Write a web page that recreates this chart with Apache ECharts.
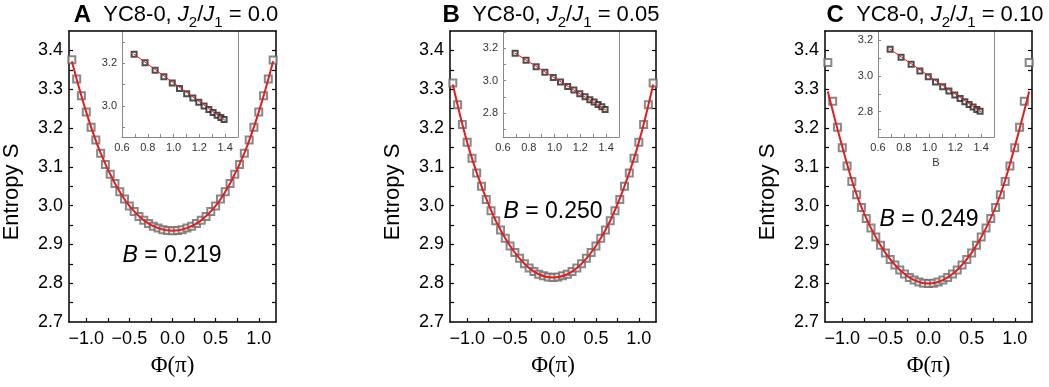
<!DOCTYPE html>
<html>
<head>
<meta charset="utf-8">
<script src="https://cdn.jsdelivr.net/npm/echarts@6/dist/echarts.min.js"></script>
<style>
  html, body { margin: 0; padding: 0; background: #fff; }
  #chart { width: 1049px; height: 387px; }
</style>
</head>
<body>
<div id="chart"></div>
<script>
// flux values Phi (units of pi), k/18
var phi = [-1.167, -1.111, -1.056, -1.0, -0.944, -0.889, -0.833, -0.778, -0.722, -0.667, -0.611,
  -0.556, -0.5, -0.444, -0.389, -0.333, -0.278, -0.222, -0.167, -0.111, -0.056, 0,
  0.056, 0.111, 0.167, 0.222, 0.278, 0.333, 0.389, 0.444, 0.5, 0.556,
  0.611, 0.667, 0.722, 0.778, 0.833, 0.889, 0.944, 1.0, 1.056, 1.111, 1.167];

// entropy S, J2/J1 = 0.0, 0.05, 0.10
var sA = [3.376, 3.326, 3.283, 3.241, 3.202, 3.169, 3.135, 3.106, 3.081, 3.057, 3.036,
  3.017, 2.999, 2.985, 2.972, 2.962, 2.954, 2.947, 2.942, 2.938, 2.936, 2.935,
  2.936, 2.938, 2.942, 2.947, 2.954, 2.962, 2.972, 2.985, 2.999, 3.017,
  3.036, 3.057, 3.081, 3.106, 3.135, 3.169, 3.202, 3.241, 3.283, 3.326, 3.375];
var sB = [3.316, 3.260, 3.209, 3.163, 3.122, 3.084, 3.050, 3.016, 2.987, 2.961, 2.937,
  2.916, 2.896, 2.879, 2.864, 2.850, 2.839, 2.830, 2.823, 2.819, 2.816, 2.815,
  2.816, 2.819, 2.823, 2.830, 2.839, 2.850, 2.864, 2.879, 2.896, 2.916,
  2.937, 2.961, 2.987, 3.016, 3.050, 3.084, 3.122, 3.163, 3.209, 3.260, 3.316];
var sC = [3.369, 3.269, 3.202, 3.149, 3.102, 3.062, 3.028, 2.995, 2.967, 2.942, 2.919,
  2.898, 2.878, 2.861, 2.847, 2.834, 2.824, 2.815, 2.808, 2.803, 2.800, 2.799,
  2.800, 2.803, 2.808, 2.815, 2.824, 2.834, 2.847, 2.861, 2.878, 2.898,
  2.919, 2.942, 2.967, 2.995, 3.028, 3.062, 3.102, 3.149, 3.202, 3.269, 3.369];

// fitted curves (red)
var phiFit = [-1.167, -1.0, -0.833, -0.667, -0.5, -0.333, -0.167, 0, 0.167, 0.333, 0.5, 0.667, 0.833, 1.0, 1.167];
var fitA = [3.372, 3.241, 3.135, 3.057, 2.999, 2.962, 2.942, 2.935, 2.942, 2.962, 2.999, 3.057, 3.135, 3.241, 3.372];
var fitB = [3.312, 3.163, 3.050, 2.961, 2.896, 2.850, 2.823, 2.815, 2.823, 2.850, 2.896, 2.961, 3.050, 3.163, 3.312];
var fitC = [3.294, 3.152, 3.028, 2.942, 2.878, 2.834, 2.808, 2.799, 2.808, 2.834, 2.878, 2.942, 3.028, 3.152, 3.294];

// insets: S vs B
var insX = [0.694, 0.779, 0.857, 0.925, 0.990, 1.046, 1.102, 1.150, 1.196, 1.237, 1.274, 1.307, 1.338, 1.367, 1.392];
var insA = [3.242, 3.202, 3.167, 3.137, 3.108, 3.082, 3.057, 3.037, 3.018, 3.000, 2.984, 2.970, 2.957, 2.946, 2.937];
var insB = [3.169, 3.126, 3.085, 3.052, 3.019, 2.991, 2.964, 2.942, 2.919, 2.900, 2.882, 2.868, 2.853, 2.839, 2.822];
var insC = [3.148, 3.104, 3.064, 3.027, 2.995, 2.966, 2.939, 2.915, 2.893, 2.874, 2.856, 2.840, 2.826, 2.813, 2.803];
var insFitX = [0.69, 1.40];
var insFitA = [3.244, 2.933];
var insFitB = [3.171, 2.817];
var insFitC = [3.150, 2.799];

// tick labels
var xLabels = [-1.0, -0.5, 0, 0.5, 1.0];
var xTicks = [-1.0, -0.75, -0.5, -0.25, 0, 0.25, 0.5, 0.75, 1.0];
var yLabels = [2.7, 2.8, 2.9, 3.0, 3.1, 3.2, 3.3, 3.4];
var yTicks = [2.75, 2.8, 2.85, 2.9, 2.95, 3.0, 3.05, 3.1, 3.15, 3.2, 3.25, 3.3, 3.35, 3.4];
var insXLabels = [0.6, 0.8, 1.0, 1.2, 1.4];
var insXTicks = [0.7, 0.8, 0.9, 1.0, 1.1, 1.2, 1.3, 1.4];

var panelLetters = ['A', 'B', 'C'];
var ratios = ['0.0', '0.05', '0.10'];
var bValues = ['0.219', '0.250', '0.249'];

var panels = [
  { s: sA, fit: fitA, ins: insA, insFit: insFitA, left: 69, width: 207, insLeft: 122,
    insMin: 2.855, insMax: 3.351, insYLabels: [3.0, 3.2], insYTicks: [2.9, 3.0, 3.1, 3.2, 3.3],
    titleX: 176, bX: 172, bY: 256, yNameX: 12, showBName: false },
  { s: sB, fit: fitB, ins: insB, insFit: insFitB, left: 450, width: 206, insLeft: 503,
    insMin: 2.652, insMax: 3.306, insYLabels: [2.8, 3.0, 3.2], insYTicks: [2.7, 2.8, 2.9, 3.0, 3.1, 3.2, 3.3],
    titleX: 551, bX: 553, bY: 212, yNameX: 393, showBName: false },
  { s: sC, fit: fitC, ins: insC, insFit: insFitC, left: 825, width: 207, insLeft: 878,
    insMin: 2.659, insMax: 3.25, insYLabels: [2.8, 3.0, 3.2], insYTicks: [2.7, 2.8, 2.9, 3.0, 3.1, 3.2],
    titleX: 935, bX: 929, bY: 220, yNameX: 768, showBName: true }
];

var FONT = '"Liberation Sans", Arial, sans-serif';
function fmt(v) { return v.toFixed(1).replace('-', '\u2212'); }
function pairs(xs, ys) {
  var out = [];
  for (var i = 0; i < xs.length; i++) out.push([xs[i], ys[i]]);
  return out;
}

var grid = [], xAxis = [], yAxis = [], series = [], title = [], graphic = [];

panels.forEach(function (p, i) {
  var g = grid.length;
  grid.push({ left: p.left, top: 31, width: p.width, height: 291 });
  grid.push({ left: p.insLeft, top: 31, width: 116, height: 106 });

  var xi = xAxis.length, yi = yAxis.length;
  // main bottom
  xAxis.push({
    type: 'value', gridIndex: g, min: -1.2, max: 1.2, position: 'bottom',
    axisLine: { onZero: false, lineStyle: { color: '#000', width: 1.5 } },
    axisTick: { inside: true, length: 4, customValues: xTicks, lineStyle: { color: '#000', width: 1.2 } },
    axisLabel: { customValues: xLabels, formatter: fmt, color: '#000', fontSize: 18, fontFamily: FONT, margin: 8 },
    splitLine: { show: false }
  });
  // main top
  xAxis.push({
    type: 'value', gridIndex: g, min: -1.2, max: 1.2, position: 'top',
    axisLine: { onZero: false, lineStyle: { color: '#000', width: 1.5 } },
    axisTick: { show: false }, axisLabel: { show: false }, splitLine: { show: false }
  });
  // inset bottom
  xAxis.push({
    type: 'value', gridIndex: g + 1, min: 0.6, max: 1.5, position: 'bottom',
    name: p.showBName ? 'B' : '', nameLocation: 'middle', nameGap: 20,
    nameTextStyle: { color: '#333', fontSize: 11, fontFamily: FONT },
    axisLine: { onZero: false, lineStyle: { color: '#888', width: 1 } },
    axisTick: { inside: true, length: 3, customValues: insXTicks, lineStyle: { color: '#888' } },
    axisLabel: { customValues: insXLabels, formatter: fmt, color: '#333', fontSize: 11, fontFamily: FONT, margin: 5 },
    splitLine: { show: false }
  });
  // main left
  yAxis.push({
    type: 'value', gridIndex: g, min: 2.7, max: 3.45, position: 'left',
    axisLine: { show: true, onZero: false, lineStyle: { color: '#000', width: 1.5 } },
    axisTick: { inside: true, length: 4, customValues: yTicks, lineStyle: { color: '#000', width: 1.2 } },
    axisLabel: { customValues: yLabels, formatter: fmt, color: '#000', fontSize: 18, fontFamily: FONT, margin: 6 },
    splitLine: { show: false }
  });
  // main right
  yAxis.push({
    type: 'value', gridIndex: g, min: 2.7, max: 3.45, position: 'right',
    axisLine: { show: true, onZero: false, lineStyle: { color: '#000', width: 1.5 } },
    axisTick: { inside: true, length: 4, customValues: yTicks, lineStyle: { color: '#000', width: 1.2 } },
    axisLabel: { show: false }, splitLine: { show: false }
  });
  // inset left
  yAxis.push({
    type: 'value', gridIndex: g + 1, min: p.insMin, max: p.insMax, position: 'left',
    axisLine: { show: true, onZero: false, lineStyle: { color: '#888', width: 1 } },
    axisTick: { inside: true, length: 3, customValues: p.insYTicks, lineStyle: { color: '#888' } },
    axisLabel: { customValues: p.insYLabels, formatter: fmt, color: '#333', fontSize: 11, fontFamily: FONT, margin: 5 },
    splitLine: { show: false }
  });
  // inset right
  yAxis.push({
    type: 'value', gridIndex: g + 1, min: p.insMin, max: p.insMax, position: 'right',
    axisLine: { show: true, onZero: false, lineStyle: { color: '#888', width: 1 } },
    axisTick: { show: false }, axisLabel: { show: false }, splitLine: { show: false }
  });

  series.push({
    type: 'scatter', xAxisIndex: xi, yAxisIndex: yi, data: pairs(phi, p.s),
    symbol: 'emptyRect', symbolSize: 7, itemStyle: { color: '#6a6a6a', borderWidth: 1 }, z: 2, silent: true
  });
  series.push({
    type: 'line', xAxisIndex: xi, yAxisIndex: yi, data: pairs(phiFit, p.fit),
    smooth: 0.4, showSymbol: false, lineStyle: { color: '#e41e1e', width: 2 }, z: 3, silent: true
  });
  series.push({
    type: 'scatter', xAxisIndex: xi + 2, yAxisIndex: yi + 2, data: pairs(insX, p.ins),
    symbol: 'emptyRect', symbolSize: 5, itemStyle: { color: '#222', borderWidth: 1 }, z: 2, silent: true
  });
  series.push({
    type: 'line', xAxisIndex: xi + 2, yAxisIndex: yi + 2, data: pairs(insFitX, p.insFit),
    showSymbol: false, lineStyle: { color: '#e41e1e', width: 1 }, z: 3, silent: true
  });

  title.push({
    text: '{b|' + panelLetters[i] + '}  YC8-0, {i|J}{s|2}/{i|J}{s|1} = ' + ratios[i],
    left: p.titleX, top: 0, padding: 0, textAlign: 'center',
    textStyle: {
      color: '#000', fontSize: 22, fontWeight: 'normal', fontFamily: FONT, lineHeight: 30,
      rich: {
        b: { fontSize: 24, fontWeight: 'bold', fontFamily: FONT, color: '#000', lineHeight: 30 },
        i: { fontSize: 22, fontStyle: 'italic', fontFamily: FONT, color: '#000', lineHeight: 30 },
        s: { fontSize: 15, fontFamily: FONT, color: '#000', lineHeight: 15, verticalAlign: 'bottom' }
      }
    }
  });
  title.push({
    text: '{i|B} = ' + bValues[i],
    left: p.bX, top: p.bY - 13, padding: 0, textAlign: 'center',
    textStyle: {
      color: '#000', fontSize: 23, fontWeight: 'normal', fontFamily: FONT, lineHeight: 26,
      rich: { i: { fontSize: 23, fontStyle: 'italic', fontFamily: FONT, color: '#000', lineHeight: 26 } }
    }
  });

  graphic.push({
    type: 'text', x: p.yNameX, y: 192, rotation: Math.PI / 2,
    style: { text: 'Entropy S', font: '22px ' + FONT, fill: '#000', textAlign: 'center', textVerticalAlign: 'middle' }
  });
  graphic.push({
    type: 'text', x: p.left + p.width / 2, y: 366,
    style: { text: '\u03A6(\u03C0)', font: '23px "Liberation Serif", "DejaVu Serif", serif', fill: '#000', textAlign: 'center', textVerticalAlign: 'middle' }
  });
});

var chart = echarts.init(document.getElementById('chart'), null, { renderer: 'canvas' });
chart.setOption({
  animation: false,
  backgroundColor: '#fff',
  title: title,
  grid: grid,
  xAxis: xAxis,
  yAxis: yAxis,
  series: series,
  graphic: graphic
});
</script>
</body>
</html>
